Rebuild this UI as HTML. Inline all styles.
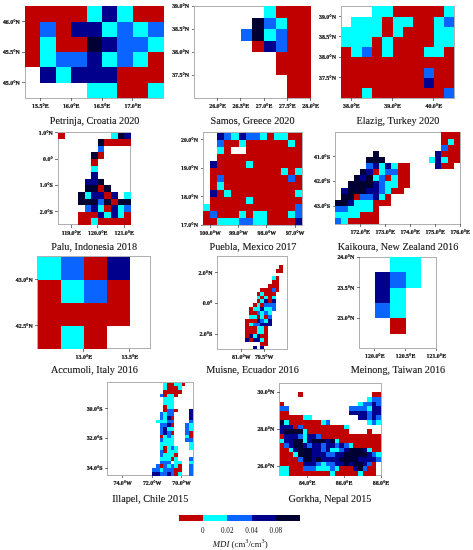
<!DOCTYPE html>
<html><head><meta charset="utf-8"><title>MDI maps</title>
<style>
html,body{margin:0;padding:0;background:#fff}
svg{display:block}
.tk{font-family:"Liberation Serif",serif;font-weight:bold;font-size:5.9px;fill:#111;stroke:#111;stroke-width:0.22px}
.tt{font-family:"Liberation Serif",serif;font-size:10.2px;fill:#111;stroke:#111;stroke-width:0.1px}
.cb{font-family:"Liberation Serif",serif;font-size:7.2px;fill:#111}
.cl{font-family:"Liberation Serif",serif;font-size:8.8px;fill:#111}
</style></head><body>
<svg width="473" height="550" viewBox="0 0 473 550">
<rect width="473" height="550" fill="#fff"/>
<g shape-rendering="crispEdges">
<rect x="25.00" y="6.20" width="138.60" height="91.90" fill="none" stroke="#b0b0b0" stroke-width="1"/>
<rect x="194.30" y="6.30" width="116.30" height="91.80" fill="none" stroke="#b0b0b0" stroke-width="1"/>
<rect x="341.10" y="6.30" width="113.30" height="91.90" fill="none" stroke="#b0b0b0" stroke-width="1"/>
<rect x="58.00" y="132.70" width="72.90" height="92.20" fill="none" stroke="#b0b0b0" stroke-width="1"/>
<rect x="203.10" y="132.80" width="99.20" height="92.20" fill="none" stroke="#b0b0b0" stroke-width="1"/>
<rect x="335.20" y="132.40" width="125.00" height="92.00" fill="none" stroke="#b0b0b0" stroke-width="1"/>
<rect x="37.90" y="256.80" width="112.60" height="92.10" fill="none" stroke="#b0b0b0" stroke-width="1"/>
<rect x="217.60" y="256.90" width="70.20" height="92.30" fill="none" stroke="#b0b0b0" stroke-width="1"/>
<rect x="359.50" y="257.00" width="76.80" height="91.80" fill="none" stroke="#b0b0b0" stroke-width="1"/>
<rect x="107.80" y="382.60" width="85.60" height="92.90" fill="none" stroke="#b0b0b0" stroke-width="1"/>
<rect x="279.50" y="383.05" width="101.50" height="92.50" fill="none" stroke="#b0b0b0" stroke-width="1"/>
<rect x="25.00" y="6.20" width="61.60" height="15.32" fill="#c00000"/>
<rect x="86.60" y="6.20" width="15.40" height="15.32" fill="#00ffff"/>
<rect x="102.00" y="6.20" width="15.40" height="15.32" fill="#00008c"/>
<rect x="117.40" y="6.20" width="15.40" height="15.32" fill="#00ffff"/>
<rect x="132.80" y="6.20" width="30.80" height="15.32" fill="#c00000"/>
<rect x="25.00" y="21.52" width="15.40" height="15.32" fill="#c00000"/>
<rect x="40.40" y="21.52" width="15.40" height="15.32" fill="#0a64ff"/>
<rect x="55.80" y="21.52" width="15.40" height="15.32" fill="#c00000"/>
<rect x="71.20" y="21.52" width="30.80" height="15.32" fill="#00008c"/>
<rect x="102.00" y="21.52" width="15.40" height="15.32" fill="#00ffff"/>
<rect x="117.40" y="21.52" width="15.40" height="15.32" fill="#0a64ff"/>
<rect x="132.80" y="21.52" width="15.40" height="15.32" fill="#00ffff"/>
<rect x="148.20" y="21.52" width="15.40" height="15.32" fill="#0a64ff"/>
<rect x="25.00" y="36.83" width="15.40" height="15.32" fill="#c00000"/>
<rect x="40.40" y="36.83" width="15.40" height="15.32" fill="#00ffff"/>
<rect x="55.80" y="36.83" width="30.80" height="15.32" fill="#c00000"/>
<rect x="86.60" y="36.83" width="15.40" height="15.32" fill="#000032"/>
<rect x="102.00" y="36.83" width="15.40" height="15.32" fill="#00008c"/>
<rect x="117.40" y="36.83" width="30.80" height="15.32" fill="#0a64ff"/>
<rect x="148.20" y="36.83" width="15.40" height="15.32" fill="#00ffff"/>
<rect x="25.00" y="52.15" width="15.40" height="15.32" fill="#c00000"/>
<rect x="40.40" y="52.15" width="15.40" height="15.32" fill="#00ffff"/>
<rect x="55.80" y="52.15" width="30.80" height="15.32" fill="#0a64ff"/>
<rect x="86.60" y="52.15" width="15.40" height="15.32" fill="#00008c"/>
<rect x="102.00" y="52.15" width="15.40" height="15.32" fill="#00ffff"/>
<rect x="117.40" y="52.15" width="15.40" height="15.32" fill="#0a64ff"/>
<rect x="132.80" y="52.15" width="15.40" height="15.32" fill="#00ffff"/>
<rect x="148.20" y="52.15" width="15.40" height="15.32" fill="#c00000"/>
<rect x="40.40" y="67.47" width="15.40" height="15.32" fill="#00008c"/>
<rect x="55.80" y="67.47" width="15.40" height="15.32" fill="#00ffff"/>
<rect x="71.20" y="67.47" width="46.20" height="15.32" fill="#00008c"/>
<rect x="117.40" y="67.47" width="46.20" height="15.32" fill="#c00000"/>
<rect x="86.60" y="82.78" width="30.80" height="15.32" fill="#00ffff"/>
<rect x="117.40" y="82.78" width="30.80" height="15.32" fill="#c00000"/>
<rect x="148.20" y="82.78" width="15.40" height="15.32" fill="#00ffff"/>
<line x1="22.40" y1="21.52" x2="25.00" y2="21.52" stroke="#404040" stroke-width="0.7"/>
<text class="tk" x="19.80" y="23.52" text-anchor="end">46.0°N</text>
<line x1="22.40" y1="52.15" x2="25.00" y2="52.15" stroke="#404040" stroke-width="0.7"/>
<text class="tk" x="19.80" y="54.15" text-anchor="end">45.5°N</text>
<line x1="22.40" y1="82.78" x2="25.00" y2="82.78" stroke="#404040" stroke-width="0.7"/>
<text class="tk" x="19.80" y="84.78" text-anchor="end">45.0°N</text>
<line x1="40.40" y1="98.10" x2="40.40" y2="100.70" stroke="#404040" stroke-width="0.7"/>
<text class="tk" x="40.40" y="107.70" text-anchor="middle">15.5°E</text>
<line x1="71.20" y1="98.10" x2="71.20" y2="100.70" stroke="#404040" stroke-width="0.7"/>
<text class="tk" x="71.20" y="107.70" text-anchor="middle">16.0°E</text>
<line x1="102.00" y1="98.10" x2="102.00" y2="100.70" stroke="#404040" stroke-width="0.7"/>
<text class="tk" x="102.00" y="107.70" text-anchor="middle">16.5°E</text>
<line x1="132.80" y1="98.10" x2="132.80" y2="100.70" stroke="#404040" stroke-width="0.7"/>
<text class="tk" x="132.80" y="107.70" text-anchor="middle">17.0°E</text>
<text class="tt" x="94.60" y="124.10" text-anchor="middle">Petrinja, Croatia 2020</text>
<rect x="264.08" y="6.30" width="11.63" height="11.47" fill="#00ffff"/>
<rect x="275.71" y="6.30" width="34.89" height="11.47" fill="#c00000"/>
<rect x="252.45" y="17.77" width="11.63" height="11.47" fill="#000032"/>
<rect x="264.08" y="17.77" width="11.63" height="11.47" fill="#0a64ff"/>
<rect x="275.71" y="17.77" width="11.63" height="11.47" fill="#00ffff"/>
<rect x="287.34" y="17.77" width="23.26" height="11.47" fill="#c00000"/>
<rect x="240.82" y="29.25" width="11.63" height="11.47" fill="#0a64ff"/>
<rect x="252.45" y="29.25" width="11.63" height="11.47" fill="#000032"/>
<rect x="264.08" y="29.25" width="11.63" height="11.47" fill="#00ffff"/>
<rect x="275.71" y="29.25" width="11.63" height="11.47" fill="#0a64ff"/>
<rect x="287.34" y="29.25" width="23.26" height="11.47" fill="#c00000"/>
<rect x="252.45" y="40.72" width="11.63" height="11.47" fill="#c00000"/>
<rect x="264.08" y="40.72" width="11.63" height="11.47" fill="#00008c"/>
<rect x="275.71" y="40.72" width="11.63" height="11.47" fill="#0a64ff"/>
<rect x="287.34" y="40.72" width="23.26" height="11.47" fill="#c00000"/>
<rect x="275.71" y="52.20" width="34.89" height="11.47" fill="#c00000"/>
<rect x="275.71" y="63.67" width="34.89" height="11.47" fill="#c00000"/>
<rect x="287.34" y="75.15" width="23.26" height="11.47" fill="#c00000"/>
<rect x="287.34" y="86.62" width="23.26" height="11.47" fill="#c00000"/>
<line x1="191.70" y1="6.30" x2="194.30" y2="6.30" stroke="#404040" stroke-width="0.7"/>
<text class="tk" x="189.10" y="8.30" text-anchor="end">39.0°N</text>
<line x1="191.70" y1="29.25" x2="194.30" y2="29.25" stroke="#404040" stroke-width="0.7"/>
<text class="tk" x="189.10" y="31.25" text-anchor="end">38.5°N</text>
<line x1="191.70" y1="52.20" x2="194.30" y2="52.20" stroke="#404040" stroke-width="0.7"/>
<text class="tk" x="189.10" y="54.20" text-anchor="end">38.0°N</text>
<line x1="191.70" y1="75.15" x2="194.30" y2="75.15" stroke="#404040" stroke-width="0.7"/>
<text class="tk" x="189.10" y="77.15" text-anchor="end">37.5°N</text>
<line x1="217.56" y1="98.10" x2="217.56" y2="100.70" stroke="#404040" stroke-width="0.7"/>
<text class="tk" x="217.56" y="107.70" text-anchor="middle">26.0°E</text>
<line x1="240.82" y1="98.10" x2="240.82" y2="100.70" stroke="#404040" stroke-width="0.7"/>
<text class="tk" x="240.82" y="107.70" text-anchor="middle">26.5°E</text>
<line x1="264.08" y1="98.10" x2="264.08" y2="100.70" stroke="#404040" stroke-width="0.7"/>
<text class="tk" x="264.08" y="107.70" text-anchor="middle">27.0°E</text>
<line x1="287.34" y1="98.10" x2="287.34" y2="100.70" stroke="#404040" stroke-width="0.7"/>
<text class="tk" x="287.34" y="107.70" text-anchor="middle">27.5°E</text>
<line x1="310.60" y1="98.10" x2="310.60" y2="100.70" stroke="#404040" stroke-width="0.7"/>
<text class="tk" x="310.60" y="107.70" text-anchor="middle">28.0°E</text>
<text class="tt" x="252.50" y="124.10" text-anchor="middle">Samos, Greece 2020</text>
<rect x="372.00" y="6.30" width="20.60" height="10.21" fill="#00ffff"/>
<rect x="392.60" y="6.30" width="51.50" height="10.21" fill="#c00000"/>
<rect x="444.10" y="6.30" width="10.30" height="10.21" fill="#00ffff"/>
<rect x="351.40" y="16.51" width="30.90" height="10.21" fill="#00ffff"/>
<rect x="382.30" y="16.51" width="10.30" height="10.21" fill="#c00000"/>
<rect x="392.60" y="16.51" width="20.60" height="10.21" fill="#00ffff"/>
<rect x="413.20" y="16.51" width="20.60" height="10.21" fill="#c00000"/>
<rect x="433.80" y="16.51" width="10.30" height="10.21" fill="#00ffff"/>
<rect x="444.10" y="16.51" width="10.30" height="10.21" fill="#0a64ff"/>
<rect x="341.10" y="26.72" width="41.20" height="10.21" fill="#00ffff"/>
<rect x="382.30" y="26.72" width="10.30" height="10.21" fill="#c00000"/>
<rect x="392.60" y="26.72" width="10.30" height="10.21" fill="#00ffff"/>
<rect x="402.90" y="26.72" width="30.90" height="10.21" fill="#c00000"/>
<rect x="433.80" y="26.72" width="20.60" height="10.21" fill="#00ffff"/>
<rect x="341.10" y="36.93" width="30.90" height="10.21" fill="#00ffff"/>
<rect x="372.00" y="36.93" width="10.30" height="10.21" fill="#c00000"/>
<rect x="382.30" y="36.93" width="10.30" height="10.21" fill="#00ffff"/>
<rect x="392.60" y="36.93" width="41.20" height="10.21" fill="#c00000"/>
<rect x="433.80" y="36.93" width="20.60" height="10.21" fill="#00ffff"/>
<rect x="341.10" y="47.14" width="10.30" height="10.21" fill="#c00000"/>
<rect x="351.40" y="47.14" width="10.30" height="10.21" fill="#00ffff"/>
<rect x="361.70" y="47.14" width="10.30" height="10.21" fill="#0a64ff"/>
<rect x="372.00" y="47.14" width="10.30" height="10.21" fill="#c00000"/>
<rect x="382.30" y="47.14" width="10.30" height="10.21" fill="#00ffff"/>
<rect x="392.60" y="47.14" width="30.90" height="10.21" fill="#c00000"/>
<rect x="423.50" y="47.14" width="20.60" height="10.21" fill="#00ffff"/>
<rect x="444.10" y="47.14" width="10.30" height="10.21" fill="#c00000"/>
<rect x="341.10" y="57.36" width="113.30" height="10.21" fill="#c00000"/>
<rect x="341.10" y="67.57" width="82.40" height="10.21" fill="#c00000"/>
<rect x="423.50" y="67.57" width="10.30" height="10.21" fill="#0a64ff"/>
<rect x="433.80" y="67.57" width="20.60" height="10.21" fill="#c00000"/>
<rect x="341.10" y="77.78" width="82.40" height="10.21" fill="#c00000"/>
<rect x="423.50" y="77.78" width="10.30" height="10.21" fill="#00008c"/>
<rect x="433.80" y="77.78" width="20.60" height="10.21" fill="#c00000"/>
<rect x="341.10" y="87.99" width="20.60" height="10.21" fill="#c00000"/>
<rect x="361.70" y="87.99" width="10.30" height="10.21" fill="#00ffff"/>
<rect x="372.00" y="87.99" width="72.10" height="10.21" fill="#c00000"/>
<rect x="444.10" y="87.99" width="10.30" height="10.21" fill="#0a64ff"/>
<line x1="338.50" y1="16.51" x2="341.10" y2="16.51" stroke="#404040" stroke-width="0.7"/>
<text class="tk" x="335.90" y="18.51" text-anchor="end">39.0°N</text>
<line x1="338.50" y1="36.93" x2="341.10" y2="36.93" stroke="#404040" stroke-width="0.7"/>
<text class="tk" x="335.90" y="38.93" text-anchor="end">38.5°N</text>
<line x1="338.50" y1="57.36" x2="341.10" y2="57.36" stroke="#404040" stroke-width="0.7"/>
<text class="tk" x="335.90" y="59.36" text-anchor="end">38.0°N</text>
<line x1="338.50" y1="77.78" x2="341.10" y2="77.78" stroke="#404040" stroke-width="0.7"/>
<text class="tk" x="335.90" y="79.78" text-anchor="end">37.5°N</text>
<line x1="351.40" y1="98.20" x2="351.40" y2="100.80" stroke="#404040" stroke-width="0.7"/>
<text class="tk" x="351.40" y="107.80" text-anchor="middle">38.0°E</text>
<line x1="392.60" y1="98.20" x2="392.60" y2="100.80" stroke="#404040" stroke-width="0.7"/>
<text class="tk" x="392.60" y="107.80" text-anchor="middle">39.0°E</text>
<line x1="433.80" y1="98.20" x2="433.80" y2="100.80" stroke="#404040" stroke-width="0.7"/>
<text class="tk" x="433.80" y="107.80" text-anchor="middle">40.0°E</text>
<text class="tt" x="398.00" y="124.10" text-anchor="middle">Elazig, Turkey 2020</text>
<rect x="58.00" y="132.70" width="6.63" height="6.59" fill="#c00000"/>
<rect x="111.02" y="132.70" width="6.63" height="6.59" fill="#00ffff"/>
<rect x="117.65" y="132.70" width="6.63" height="6.59" fill="#000032"/>
<rect x="124.27" y="132.70" width="6.63" height="6.59" fill="#00008c"/>
<rect x="97.76" y="139.29" width="6.63" height="6.59" fill="#000032"/>
<rect x="104.39" y="139.29" width="26.51" height="6.59" fill="#c00000"/>
<rect x="97.76" y="145.87" width="6.63" height="6.59" fill="#0a64ff"/>
<rect x="91.14" y="152.46" width="6.63" height="6.59" fill="#000032"/>
<rect x="97.76" y="152.46" width="6.63" height="6.59" fill="#c00000"/>
<rect x="91.14" y="159.04" width="6.63" height="6.59" fill="#c00000"/>
<rect x="91.14" y="165.63" width="6.63" height="6.59" fill="#00ffff"/>
<rect x="91.14" y="172.21" width="6.63" height="6.59" fill="#00008c"/>
<rect x="84.51" y="178.80" width="13.25" height="6.59" fill="#00008c"/>
<rect x="97.76" y="178.80" width="6.63" height="6.59" fill="#000032"/>
<rect x="84.51" y="185.39" width="13.25" height="6.59" fill="#000032"/>
<rect x="97.76" y="185.39" width="6.63" height="6.59" fill="#c00000"/>
<rect x="104.39" y="185.39" width="6.63" height="6.59" fill="#000032"/>
<rect x="77.88" y="191.97" width="6.63" height="6.59" fill="#000032"/>
<rect x="84.51" y="191.97" width="6.63" height="6.59" fill="#00ffff"/>
<rect x="91.14" y="191.97" width="13.25" height="6.59" fill="#00008c"/>
<rect x="104.39" y="191.97" width="6.63" height="6.59" fill="#c00000"/>
<rect x="111.02" y="191.97" width="6.63" height="6.59" fill="#00008c"/>
<rect x="124.27" y="191.97" width="6.63" height="6.59" fill="#00ffff"/>
<rect x="77.88" y="198.56" width="19.88" height="6.59" fill="#000032"/>
<rect x="97.76" y="198.56" width="6.63" height="6.59" fill="#0a64ff"/>
<rect x="104.39" y="198.56" width="6.63" height="6.59" fill="#000032"/>
<rect x="111.02" y="198.56" width="6.63" height="6.59" fill="#c00000"/>
<rect x="117.65" y="198.56" width="13.25" height="6.59" fill="#000032"/>
<rect x="84.51" y="205.14" width="6.63" height="6.59" fill="#0a64ff"/>
<rect x="91.14" y="205.14" width="6.63" height="6.59" fill="#00008c"/>
<rect x="97.76" y="205.14" width="6.63" height="6.59" fill="#00ffff"/>
<rect x="104.39" y="205.14" width="6.63" height="6.59" fill="#c00000"/>
<rect x="111.02" y="205.14" width="6.63" height="6.59" fill="#00008c"/>
<rect x="117.65" y="205.14" width="6.63" height="6.59" fill="#00ffff"/>
<rect x="124.27" y="205.14" width="6.63" height="6.59" fill="#0a64ff"/>
<rect x="77.88" y="211.73" width="19.88" height="6.59" fill="#c00000"/>
<rect x="97.76" y="211.73" width="6.63" height="6.59" fill="#00008c"/>
<rect x="104.39" y="211.73" width="6.63" height="6.59" fill="#00ffff"/>
<rect x="111.02" y="211.73" width="6.63" height="6.59" fill="#00008c"/>
<rect x="117.65" y="211.73" width="6.63" height="6.59" fill="#00ffff"/>
<rect x="124.27" y="211.73" width="6.63" height="6.59" fill="#c00000"/>
<rect x="77.88" y="218.31" width="13.25" height="6.59" fill="#c00000"/>
<rect x="91.14" y="218.31" width="6.63" height="6.59" fill="#00ffff"/>
<rect x="97.76" y="218.31" width="33.14" height="6.59" fill="#c00000"/>
<line x1="55.40" y1="132.70" x2="58.00" y2="132.70" stroke="#404040" stroke-width="0.7"/>
<text class="tk" x="52.80" y="134.70" text-anchor="end">1.0°N</text>
<line x1="55.40" y1="159.04" x2="58.00" y2="159.04" stroke="#404040" stroke-width="0.7"/>
<text class="tk" x="52.80" y="161.04" text-anchor="end">0.0°</text>
<line x1="55.40" y1="185.39" x2="58.00" y2="185.39" stroke="#404040" stroke-width="0.7"/>
<text class="tk" x="52.80" y="187.39" text-anchor="end">1.0°S</text>
<line x1="55.40" y1="211.73" x2="58.00" y2="211.73" stroke="#404040" stroke-width="0.7"/>
<text class="tk" x="52.80" y="213.73" text-anchor="end">2.0°S</text>
<line x1="71.25" y1="224.90" x2="71.25" y2="227.50" stroke="#404040" stroke-width="0.7"/>
<text class="tk" x="71.25" y="234.50" text-anchor="middle">119.0°E</text>
<line x1="97.76" y1="224.90" x2="97.76" y2="227.50" stroke="#404040" stroke-width="0.7"/>
<text class="tk" x="97.76" y="234.50" text-anchor="middle">120.0°E</text>
<line x1="124.27" y1="224.90" x2="124.27" y2="227.50" stroke="#404040" stroke-width="0.7"/>
<text class="tk" x="124.27" y="234.50" text-anchor="middle">121.0°E</text>
<text class="tt" x="94.20" y="250.20" text-anchor="middle">Palu, Indonesia 2018</text>
<rect x="217.27" y="132.80" width="7.09" height="7.09" fill="#00008c"/>
<rect x="224.36" y="132.80" width="7.09" height="7.09" fill="#0a64ff"/>
<rect x="231.44" y="132.80" width="7.09" height="7.09" fill="#00ffff"/>
<rect x="238.53" y="132.80" width="7.09" height="7.09" fill="#00008c"/>
<rect x="245.61" y="132.80" width="14.17" height="7.09" fill="#0a64ff"/>
<rect x="259.79" y="132.80" width="7.09" height="7.09" fill="#00ffff"/>
<rect x="266.87" y="132.80" width="7.09" height="7.09" fill="#c00000"/>
<rect x="273.96" y="132.80" width="14.17" height="7.09" fill="#00ffff"/>
<rect x="288.13" y="132.80" width="14.17" height="7.09" fill="#c00000"/>
<rect x="217.27" y="139.89" width="7.09" height="7.09" fill="#0a64ff"/>
<rect x="224.36" y="139.89" width="14.17" height="7.09" fill="#c00000"/>
<rect x="238.53" y="139.89" width="7.09" height="7.09" fill="#00ffff"/>
<rect x="245.61" y="139.89" width="42.51" height="7.09" fill="#c00000"/>
<rect x="288.13" y="139.89" width="7.09" height="7.09" fill="#00ffff"/>
<rect x="295.21" y="139.89" width="7.09" height="7.09" fill="#c00000"/>
<rect x="217.27" y="146.98" width="7.09" height="7.09" fill="#00ffff"/>
<rect x="224.36" y="146.98" width="7.09" height="7.09" fill="#c00000"/>
<rect x="245.61" y="146.98" width="56.69" height="7.09" fill="#c00000"/>
<rect x="217.27" y="154.08" width="85.03" height="7.09" fill="#c00000"/>
<rect x="210.19" y="161.17" width="7.09" height="7.09" fill="#00008c"/>
<rect x="217.27" y="161.17" width="28.34" height="7.09" fill="#c00000"/>
<rect x="245.61" y="161.17" width="7.09" height="7.09" fill="#00ffff"/>
<rect x="252.70" y="161.17" width="49.60" height="7.09" fill="#c00000"/>
<rect x="210.19" y="168.26" width="70.86" height="7.09" fill="#c00000"/>
<rect x="281.04" y="168.26" width="7.09" height="7.09" fill="#00ffff"/>
<rect x="288.13" y="168.26" width="7.09" height="7.09" fill="#c00000"/>
<rect x="295.21" y="168.26" width="7.09" height="7.09" fill="#00ffff"/>
<rect x="210.19" y="175.35" width="7.09" height="7.09" fill="#c00000"/>
<rect x="217.27" y="175.35" width="7.09" height="7.09" fill="#0a64ff"/>
<rect x="224.36" y="175.35" width="63.77" height="7.09" fill="#c00000"/>
<rect x="288.13" y="175.35" width="7.09" height="7.09" fill="#0a64ff"/>
<rect x="295.21" y="175.35" width="7.09" height="7.09" fill="#c00000"/>
<rect x="210.19" y="182.45" width="7.09" height="7.09" fill="#c00000"/>
<rect x="217.27" y="182.45" width="7.09" height="7.09" fill="#00ffff"/>
<rect x="224.36" y="182.45" width="77.94" height="7.09" fill="#c00000"/>
<rect x="210.19" y="189.54" width="7.09" height="7.09" fill="#00008c"/>
<rect x="217.27" y="189.54" width="7.09" height="7.09" fill="#c00000"/>
<rect x="224.36" y="189.54" width="7.09" height="7.09" fill="#00ffff"/>
<rect x="231.44" y="189.54" width="63.77" height="7.09" fill="#c00000"/>
<rect x="295.21" y="189.54" width="7.09" height="7.09" fill="#00ffff"/>
<rect x="210.19" y="196.63" width="35.43" height="7.09" fill="#c00000"/>
<rect x="245.61" y="196.63" width="7.09" height="7.09" fill="#00ffff"/>
<rect x="252.70" y="196.63" width="49.60" height="7.09" fill="#c00000"/>
<rect x="203.10" y="203.72" width="7.09" height="7.09" fill="#00ffff"/>
<rect x="210.19" y="203.72" width="85.03" height="7.09" fill="#c00000"/>
<rect x="295.21" y="203.72" width="7.09" height="7.09" fill="#0a64ff"/>
<rect x="203.10" y="210.82" width="7.09" height="7.09" fill="#c00000"/>
<rect x="210.19" y="210.82" width="7.09" height="7.09" fill="#0a64ff"/>
<rect x="217.27" y="210.82" width="21.26" height="7.09" fill="#c00000"/>
<rect x="238.53" y="210.82" width="7.09" height="7.09" fill="#00ffff"/>
<rect x="245.61" y="210.82" width="7.09" height="7.09" fill="#c00000"/>
<rect x="252.70" y="210.82" width="14.17" height="7.09" fill="#00ffff"/>
<rect x="266.87" y="210.82" width="21.26" height="7.09" fill="#c00000"/>
<rect x="288.13" y="210.82" width="7.09" height="7.09" fill="#00ffff"/>
<rect x="295.21" y="210.82" width="7.09" height="7.09" fill="#0a64ff"/>
<rect x="203.10" y="217.91" width="14.17" height="7.09" fill="#c00000"/>
<rect x="217.27" y="217.91" width="21.26" height="7.09" fill="#00ffff"/>
<rect x="238.53" y="217.91" width="14.17" height="7.09" fill="#0a64ff"/>
<rect x="252.70" y="217.91" width="14.17" height="7.09" fill="#00ffff"/>
<rect x="266.87" y="217.91" width="28.34" height="7.09" fill="#c00000"/>
<rect x="295.21" y="217.91" width="7.09" height="7.09" fill="#00008c"/>
<line x1="200.50" y1="139.89" x2="203.10" y2="139.89" stroke="#404040" stroke-width="0.7"/>
<text class="tk" x="197.90" y="141.89" text-anchor="end">20.0°N</text>
<line x1="200.50" y1="168.26" x2="203.10" y2="168.26" stroke="#404040" stroke-width="0.7"/>
<text class="tk" x="197.90" y="170.26" text-anchor="end">19.0°N</text>
<line x1="200.50" y1="196.63" x2="203.10" y2="196.63" stroke="#404040" stroke-width="0.7"/>
<text class="tk" x="197.90" y="198.63" text-anchor="end">18.0°N</text>
<line x1="200.50" y1="225.00" x2="203.10" y2="225.00" stroke="#404040" stroke-width="0.7"/>
<text class="tk" x="197.90" y="227.00" text-anchor="end">17.0°N</text>
<line x1="210.19" y1="225.00" x2="210.19" y2="227.60" stroke="#404040" stroke-width="0.7"/>
<text class="tk" x="210.19" y="234.60" text-anchor="middle">100.0°W</text>
<line x1="238.53" y1="225.00" x2="238.53" y2="227.60" stroke="#404040" stroke-width="0.7"/>
<text class="tk" x="238.53" y="234.60" text-anchor="middle">99.0°W</text>
<line x1="266.87" y1="225.00" x2="266.87" y2="227.60" stroke="#404040" stroke-width="0.7"/>
<text class="tk" x="266.87" y="234.60" text-anchor="middle">98.0°W</text>
<line x1="295.21" y1="225.00" x2="295.21" y2="227.60" stroke="#404040" stroke-width="0.7"/>
<text class="tk" x="295.21" y="234.60" text-anchor="middle">97.0°W</text>
<text class="tt" x="253.00" y="250.30" text-anchor="middle">Puebla, Mexico 2017</text>
<rect x="441.45" y="132.40" width="18.75" height="6.13" fill="#c00000"/>
<rect x="441.45" y="138.53" width="6.25" height="6.13" fill="#c00000"/>
<rect x="447.70" y="138.53" width="6.25" height="6.13" fill="#00ffff"/>
<rect x="453.95" y="138.53" width="6.25" height="6.13" fill="#c00000"/>
<rect x="441.45" y="144.67" width="6.25" height="6.13" fill="#0a64ff"/>
<rect x="447.70" y="144.67" width="12.50" height="6.13" fill="#c00000"/>
<rect x="372.70" y="150.80" width="6.25" height="6.13" fill="#000032"/>
<rect x="435.20" y="150.80" width="6.25" height="6.13" fill="#00008c"/>
<rect x="441.45" y="150.80" width="18.75" height="6.13" fill="#c00000"/>
<rect x="366.45" y="156.93" width="18.75" height="6.13" fill="#000032"/>
<rect x="428.95" y="156.93" width="6.25" height="6.13" fill="#00ffff"/>
<rect x="435.20" y="156.93" width="6.25" height="6.13" fill="#00008c"/>
<rect x="441.45" y="156.93" width="6.25" height="6.13" fill="#00ffff"/>
<rect x="447.70" y="156.93" width="12.50" height="6.13" fill="#c00000"/>
<rect x="366.45" y="163.07" width="6.25" height="6.13" fill="#0a64ff"/>
<rect x="372.70" y="163.07" width="6.25" height="6.13" fill="#00008c"/>
<rect x="378.95" y="163.07" width="6.25" height="6.13" fill="#00ffff"/>
<rect x="385.20" y="163.07" width="6.25" height="6.13" fill="#00008c"/>
<rect x="391.45" y="163.07" width="6.25" height="6.13" fill="#00ffff"/>
<rect x="397.70" y="163.07" width="12.50" height="6.13" fill="#c00000"/>
<rect x="435.20" y="163.07" width="6.25" height="6.13" fill="#00008c"/>
<rect x="441.45" y="163.07" width="12.50" height="6.13" fill="#c00000"/>
<rect x="360.20" y="169.20" width="6.25" height="6.13" fill="#000032"/>
<rect x="366.45" y="169.20" width="6.25" height="6.13" fill="#00008c"/>
<rect x="372.70" y="169.20" width="6.25" height="6.13" fill="#c00000"/>
<rect x="378.95" y="169.20" width="6.25" height="6.13" fill="#00ffff"/>
<rect x="385.20" y="169.20" width="12.50" height="6.13" fill="#0a64ff"/>
<rect x="397.70" y="169.20" width="12.50" height="6.13" fill="#c00000"/>
<rect x="353.95" y="175.33" width="6.25" height="6.13" fill="#000032"/>
<rect x="360.20" y="175.33" width="6.25" height="6.13" fill="#00008c"/>
<rect x="366.45" y="175.33" width="6.25" height="6.13" fill="#000032"/>
<rect x="372.70" y="175.33" width="6.25" height="6.13" fill="#00ffff"/>
<rect x="378.95" y="175.33" width="6.25" height="6.13" fill="#0a64ff"/>
<rect x="385.20" y="175.33" width="6.25" height="6.13" fill="#c00000"/>
<rect x="391.45" y="175.33" width="6.25" height="6.13" fill="#00ffff"/>
<rect x="397.70" y="175.33" width="12.50" height="6.13" fill="#c00000"/>
<rect x="347.70" y="181.47" width="25.00" height="6.13" fill="#000032"/>
<rect x="372.70" y="181.47" width="6.25" height="6.13" fill="#00008c"/>
<rect x="378.95" y="181.47" width="6.25" height="6.13" fill="#0a64ff"/>
<rect x="385.20" y="181.47" width="12.50" height="6.13" fill="#00ffff"/>
<rect x="397.70" y="181.47" width="12.50" height="6.13" fill="#c00000"/>
<rect x="341.45" y="187.60" width="6.25" height="6.13" fill="#00008c"/>
<rect x="347.70" y="187.60" width="18.75" height="6.13" fill="#000032"/>
<rect x="366.45" y="187.60" width="12.50" height="6.13" fill="#00008c"/>
<rect x="378.95" y="187.60" width="6.25" height="6.13" fill="#0a64ff"/>
<rect x="385.20" y="187.60" width="6.25" height="6.13" fill="#00ffff"/>
<rect x="391.45" y="187.60" width="12.50" height="6.13" fill="#c00000"/>
<rect x="341.45" y="193.73" width="12.50" height="6.13" fill="#000032"/>
<rect x="353.95" y="193.73" width="6.25" height="6.13" fill="#c00000"/>
<rect x="360.20" y="193.73" width="12.50" height="6.13" fill="#0a64ff"/>
<rect x="372.70" y="193.73" width="6.25" height="6.13" fill="#00008c"/>
<rect x="378.95" y="193.73" width="6.25" height="6.13" fill="#00ffff"/>
<rect x="385.20" y="193.73" width="6.25" height="6.13" fill="#c00000"/>
<rect x="335.20" y="199.87" width="12.50" height="6.13" fill="#000032"/>
<rect x="347.70" y="199.87" width="6.25" height="6.13" fill="#00008c"/>
<rect x="353.95" y="199.87" width="18.75" height="6.13" fill="#00ffff"/>
<rect x="372.70" y="199.87" width="18.75" height="6.13" fill="#c00000"/>
<rect x="335.20" y="206.00" width="12.50" height="6.13" fill="#0a64ff"/>
<rect x="347.70" y="206.00" width="25.00" height="6.13" fill="#00ffff"/>
<rect x="372.70" y="206.00" width="6.25" height="6.13" fill="#c00000"/>
<rect x="335.20" y="212.13" width="25.00" height="6.13" fill="#00ffff"/>
<rect x="360.20" y="212.13" width="18.75" height="6.13" fill="#c00000"/>
<rect x="335.20" y="218.27" width="6.25" height="6.13" fill="#0a64ff"/>
<rect x="341.45" y="218.27" width="6.25" height="6.13" fill="#00ffff"/>
<rect x="347.70" y="218.27" width="31.25" height="6.13" fill="#c00000"/>
<line x1="332.60" y1="156.93" x2="335.20" y2="156.93" stroke="#404040" stroke-width="0.7"/>
<text class="tk" x="330.00" y="158.93" text-anchor="end">41.0°S</text>
<line x1="332.60" y1="181.47" x2="335.20" y2="181.47" stroke="#404040" stroke-width="0.7"/>
<text class="tk" x="330.00" y="183.47" text-anchor="end">42.0°S</text>
<line x1="332.60" y1="206.00" x2="335.20" y2="206.00" stroke="#404040" stroke-width="0.7"/>
<text class="tk" x="330.00" y="208.00" text-anchor="end">43.0°S</text>
<line x1="360.20" y1="224.40" x2="360.20" y2="227.00" stroke="#404040" stroke-width="0.7"/>
<text class="tk" x="360.20" y="234.00" text-anchor="middle">172.0°E</text>
<line x1="385.20" y1="224.40" x2="385.20" y2="227.00" stroke="#404040" stroke-width="0.7"/>
<text class="tk" x="385.20" y="234.00" text-anchor="middle">173.0°E</text>
<line x1="410.20" y1="224.40" x2="410.20" y2="227.00" stroke="#404040" stroke-width="0.7"/>
<text class="tk" x="410.20" y="234.00" text-anchor="middle">174.0°E</text>
<line x1="435.20" y1="224.40" x2="435.20" y2="227.00" stroke="#404040" stroke-width="0.7"/>
<text class="tk" x="435.20" y="234.00" text-anchor="middle">175.0°E</text>
<line x1="460.20" y1="224.40" x2="460.20" y2="227.00" stroke="#404040" stroke-width="0.7"/>
<text class="tk" x="460.20" y="234.00" text-anchor="middle">176.0°E</text>
<text class="tt" x="398.00" y="250.30" text-anchor="middle">Kaikoura, New Zealand 2016</text>
<rect x="37.90" y="256.80" width="23.00" height="23.02" fill="#00ffff"/>
<rect x="60.90" y="256.80" width="23.00" height="23.02" fill="#0a64ff"/>
<rect x="83.90" y="256.80" width="23.00" height="23.02" fill="#c00000"/>
<rect x="106.90" y="256.80" width="23.00" height="23.02" fill="#00008c"/>
<rect x="37.90" y="279.82" width="23.00" height="23.02" fill="#c00000"/>
<rect x="60.90" y="279.82" width="23.00" height="23.02" fill="#00ffff"/>
<rect x="83.90" y="279.82" width="23.00" height="23.02" fill="#0a64ff"/>
<rect x="106.90" y="279.82" width="23.00" height="23.02" fill="#c00000"/>
<rect x="37.90" y="302.85" width="92.00" height="23.02" fill="#c00000"/>
<rect x="37.90" y="325.88" width="23.00" height="23.02" fill="#c00000"/>
<rect x="60.90" y="325.88" width="23.00" height="23.02" fill="#00ffff"/>
<rect x="83.90" y="325.88" width="23.00" height="23.02" fill="#c00000"/>
<line x1="35.30" y1="279.82" x2="37.90" y2="279.82" stroke="#404040" stroke-width="0.7"/>
<text class="tk" x="32.70" y="281.82" text-anchor="end">43.0°N</text>
<line x1="35.30" y1="325.88" x2="37.90" y2="325.88" stroke="#404040" stroke-width="0.7"/>
<text class="tk" x="32.70" y="327.88" text-anchor="end">42.5°N</text>
<line x1="83.90" y1="348.90" x2="83.90" y2="351.50" stroke="#404040" stroke-width="0.7"/>
<text class="tk" x="83.90" y="358.50" text-anchor="middle">13.0°E</text>
<line x1="129.90" y1="348.90" x2="129.90" y2="351.50" stroke="#404040" stroke-width="0.7"/>
<text class="tk" x="129.90" y="358.50" text-anchor="middle">13.5°E</text>
<text class="tt" x="94.40" y="373.20" text-anchor="middle">Accumoli, Italy 2016</text>
<rect x="279.40" y="264.92" width="3.80" height="3.84" fill="#c00000"/>
<rect x="275.60" y="268.76" width="7.60" height="3.84" fill="#c00000"/>
<rect x="271.80" y="276.44" width="3.80" height="3.84" fill="#00ffff"/>
<rect x="275.60" y="276.44" width="3.80" height="3.84" fill="#c00000"/>
<rect x="271.80" y="280.28" width="7.60" height="3.84" fill="#c00000"/>
<rect x="268.00" y="284.12" width="11.40" height="3.84" fill="#c00000"/>
<rect x="260.40" y="287.96" width="11.40" height="3.84" fill="#c00000"/>
<rect x="271.80" y="287.96" width="3.80" height="3.84" fill="#0a64ff"/>
<rect x="275.60" y="287.96" width="3.80" height="3.84" fill="#c00000"/>
<rect x="256.60" y="291.80" width="3.80" height="3.84" fill="#c00000"/>
<rect x="260.40" y="291.80" width="3.80" height="3.84" fill="#00ffff"/>
<rect x="264.20" y="291.80" width="11.40" height="3.84" fill="#c00000"/>
<rect x="256.60" y="295.64" width="3.80" height="3.84" fill="#00ffff"/>
<rect x="260.40" y="295.64" width="3.80" height="3.84" fill="#c00000"/>
<rect x="264.20" y="295.64" width="3.80" height="3.84" fill="#00ffff"/>
<rect x="268.00" y="295.64" width="3.80" height="3.84" fill="#c00000"/>
<rect x="271.80" y="295.64" width="3.80" height="3.84" fill="#00ffff"/>
<rect x="256.60" y="299.48" width="3.80" height="3.84" fill="#c00000"/>
<rect x="260.40" y="299.48" width="3.80" height="3.84" fill="#00ffff"/>
<rect x="264.20" y="299.48" width="3.80" height="3.84" fill="#00008c"/>
<rect x="268.00" y="299.48" width="3.80" height="3.84" fill="#c00000"/>
<rect x="271.80" y="299.48" width="3.80" height="3.84" fill="#00008c"/>
<rect x="252.80" y="303.32" width="3.80" height="3.84" fill="#c00000"/>
<rect x="256.60" y="303.32" width="3.80" height="3.84" fill="#00ffff"/>
<rect x="260.40" y="303.32" width="3.80" height="3.84" fill="#c00000"/>
<rect x="264.20" y="303.32" width="11.40" height="3.84" fill="#0a64ff"/>
<rect x="249.00" y="307.16" width="3.80" height="3.84" fill="#c00000"/>
<rect x="252.80" y="307.16" width="7.60" height="3.84" fill="#00ffff"/>
<rect x="260.40" y="307.16" width="3.80" height="3.84" fill="#00008c"/>
<rect x="264.20" y="307.16" width="7.60" height="3.84" fill="#00ffff"/>
<rect x="271.80" y="307.16" width="3.80" height="3.84" fill="#0a64ff"/>
<rect x="249.00" y="311.00" width="7.60" height="3.84" fill="#c00000"/>
<rect x="256.60" y="311.00" width="3.80" height="3.84" fill="#0a64ff"/>
<rect x="260.40" y="311.00" width="3.80" height="3.84" fill="#00ffff"/>
<rect x="264.20" y="311.00" width="3.80" height="3.84" fill="#0a64ff"/>
<rect x="268.00" y="311.00" width="3.80" height="3.84" fill="#00ffff"/>
<rect x="249.00" y="314.84" width="7.60" height="3.84" fill="#00ffff"/>
<rect x="256.60" y="314.84" width="3.80" height="3.84" fill="#c00000"/>
<rect x="260.40" y="314.84" width="3.80" height="3.84" fill="#00ffff"/>
<rect x="264.20" y="314.84" width="3.80" height="3.84" fill="#c00000"/>
<rect x="268.00" y="314.84" width="3.80" height="3.84" fill="#0a64ff"/>
<rect x="245.20" y="318.68" width="11.40" height="3.84" fill="#c00000"/>
<rect x="256.60" y="318.68" width="3.80" height="3.84" fill="#00008c"/>
<rect x="260.40" y="318.68" width="3.80" height="3.84" fill="#0a64ff"/>
<rect x="264.20" y="318.68" width="3.80" height="3.84" fill="#00ffff"/>
<rect x="268.00" y="318.68" width="3.80" height="3.84" fill="#00008c"/>
<rect x="245.20" y="322.52" width="3.80" height="3.84" fill="#c00000"/>
<rect x="249.00" y="322.52" width="3.80" height="3.84" fill="#00ffff"/>
<rect x="252.80" y="322.52" width="7.60" height="3.84" fill="#0a64ff"/>
<rect x="260.40" y="322.52" width="11.40" height="3.84" fill="#00008c"/>
<rect x="245.20" y="326.36" width="11.40" height="3.84" fill="#c00000"/>
<rect x="256.60" y="326.36" width="7.60" height="3.84" fill="#00ffff"/>
<rect x="264.20" y="326.36" width="3.80" height="3.84" fill="#c00000"/>
<rect x="245.20" y="330.20" width="11.40" height="3.84" fill="#c00000"/>
<rect x="256.60" y="330.20" width="7.60" height="3.84" fill="#00ffff"/>
<rect x="264.20" y="330.20" width="3.80" height="3.84" fill="#c00000"/>
<rect x="245.20" y="334.04" width="3.80" height="3.84" fill="#c00000"/>
<rect x="249.00" y="334.04" width="3.80" height="3.84" fill="#00008c"/>
<rect x="252.80" y="334.04" width="3.80" height="3.84" fill="#00ffff"/>
<rect x="256.60" y="334.04" width="3.80" height="3.84" fill="#00008c"/>
<rect x="260.40" y="334.04" width="7.60" height="3.84" fill="#c00000"/>
<rect x="245.20" y="337.88" width="3.80" height="3.84" fill="#00008c"/>
<rect x="249.00" y="337.88" width="3.80" height="3.84" fill="#c00000"/>
<rect x="252.80" y="337.88" width="7.60" height="3.84" fill="#00008c"/>
<rect x="260.40" y="337.88" width="3.80" height="3.84" fill="#00ffff"/>
<rect x="264.20" y="337.88" width="3.80" height="3.84" fill="#c00000"/>
<rect x="260.40" y="341.72" width="7.60" height="3.84" fill="#c00000"/>
<rect x="252.80" y="345.56" width="3.80" height="3.84" fill="#00008c"/>
<rect x="260.40" y="345.56" width="3.80" height="3.84" fill="#00008c"/>
<line x1="215.00" y1="272.60" x2="217.60" y2="272.60" stroke="#404040" stroke-width="0.7"/>
<text class="tk" x="212.40" y="274.60" text-anchor="end">2.0°N</text>
<line x1="215.00" y1="303.32" x2="217.60" y2="303.32" stroke="#404040" stroke-width="0.7"/>
<text class="tk" x="212.40" y="305.32" text-anchor="end">0.0°</text>
<line x1="215.00" y1="334.04" x2="217.60" y2="334.04" stroke="#404040" stroke-width="0.7"/>
<text class="tk" x="212.40" y="336.04" text-anchor="end">2.0°S</text>
<line x1="241.40" y1="349.20" x2="241.40" y2="351.80" stroke="#404040" stroke-width="0.7"/>
<text class="tk" x="241.40" y="358.80" text-anchor="middle">81.0°W</text>
<line x1="264.20" y1="349.20" x2="264.20" y2="351.80" stroke="#404040" stroke-width="0.7"/>
<text class="tk" x="264.20" y="358.80" text-anchor="middle">79.5°W</text>
<text class="tt" x="252.50" y="373.20" text-anchor="middle">Muisne, Ecuador 2016</text>
<rect x="390.22" y="257.00" width="30.72" height="15.30" fill="#00ffff"/>
<rect x="374.86" y="272.30" width="15.36" height="15.30" fill="#00008c"/>
<rect x="390.22" y="272.30" width="15.36" height="15.30" fill="#0a64ff"/>
<rect x="405.58" y="272.30" width="15.36" height="15.30" fill="#00ffff"/>
<rect x="374.86" y="287.60" width="15.36" height="15.30" fill="#00008c"/>
<rect x="390.22" y="287.60" width="15.36" height="15.30" fill="#00ffff"/>
<rect x="374.86" y="302.90" width="15.36" height="15.30" fill="#0a64ff"/>
<rect x="390.22" y="302.90" width="15.36" height="15.30" fill="#00ffff"/>
<rect x="390.22" y="318.20" width="15.36" height="15.30" fill="#c00000"/>
<line x1="356.90" y1="257.00" x2="359.50" y2="257.00" stroke="#404040" stroke-width="0.7"/>
<text class="tk" x="354.30" y="259.00" text-anchor="end">24.0°N</text>
<line x1="356.90" y1="287.60" x2="359.50" y2="287.60" stroke="#404040" stroke-width="0.7"/>
<text class="tk" x="354.30" y="289.60" text-anchor="end">23.5°N</text>
<line x1="356.90" y1="318.20" x2="359.50" y2="318.20" stroke="#404040" stroke-width="0.7"/>
<text class="tk" x="354.30" y="320.20" text-anchor="end">23.0°N</text>
<line x1="374.86" y1="348.80" x2="374.86" y2="351.40" stroke="#404040" stroke-width="0.7"/>
<text class="tk" x="374.86" y="358.40" text-anchor="middle">120.0°E</text>
<line x1="405.58" y1="348.80" x2="405.58" y2="351.40" stroke="#404040" stroke-width="0.7"/>
<text class="tk" x="405.58" y="358.40" text-anchor="middle">120.5°E</text>
<line x1="436.30" y1="348.80" x2="436.30" y2="351.40" stroke="#404040" stroke-width="0.7"/>
<text class="tk" x="436.30" y="358.40" text-anchor="middle">121.0°E</text>
<text class="tt" x="398.00" y="373.20" text-anchor="middle">Meinong, Taiwan 2016</text>
<rect x="163.20" y="382.56" width="3.68" height="3.72" fill="#00ffff"/>
<rect x="166.88" y="382.56" width="7.36" height="3.72" fill="#c00000"/>
<rect x="174.24" y="382.56" width="7.36" height="3.72" fill="#00ffff"/>
<rect x="181.60" y="382.56" width="3.68" height="3.72" fill="#c00000"/>
<rect x="163.20" y="386.28" width="3.68" height="3.72" fill="#00ffff"/>
<rect x="166.88" y="386.28" width="11.04" height="3.72" fill="#c00000"/>
<rect x="177.92" y="386.28" width="3.68" height="3.72" fill="#00ffff"/>
<rect x="163.20" y="390.00" width="18.40" height="3.72" fill="#c00000"/>
<rect x="159.52" y="393.72" width="3.68" height="3.72" fill="#0a64ff"/>
<rect x="163.20" y="393.72" width="3.68" height="3.72" fill="#c00000"/>
<rect x="166.88" y="393.72" width="7.36" height="3.72" fill="#00ffff"/>
<rect x="174.24" y="393.72" width="3.68" height="3.72" fill="#c00000"/>
<rect x="163.20" y="397.44" width="11.04" height="3.72" fill="#00ffff"/>
<rect x="163.20" y="401.16" width="11.04" height="3.72" fill="#00ffff"/>
<rect x="163.20" y="404.88" width="3.68" height="3.72" fill="#c00000"/>
<rect x="166.88" y="404.88" width="7.36" height="3.72" fill="#00ffff"/>
<rect x="163.20" y="408.60" width="3.68" height="3.72" fill="#c00000"/>
<rect x="166.88" y="408.60" width="7.36" height="3.72" fill="#0a64ff"/>
<rect x="174.24" y="408.60" width="3.68" height="3.72" fill="#c00000"/>
<rect x="188.96" y="408.60" width="3.68" height="3.72" fill="#00008c"/>
<rect x="159.52" y="412.32" width="3.68" height="3.72" fill="#0a64ff"/>
<rect x="163.20" y="412.32" width="3.68" height="3.72" fill="#00ffff"/>
<rect x="166.88" y="412.32" width="7.36" height="3.72" fill="#0a64ff"/>
<rect x="188.96" y="412.32" width="3.68" height="3.72" fill="#00008c"/>
<rect x="159.52" y="416.04" width="3.68" height="3.72" fill="#0a64ff"/>
<rect x="163.20" y="416.04" width="3.68" height="3.72" fill="#00ffff"/>
<rect x="166.88" y="416.04" width="3.68" height="3.72" fill="#00008c"/>
<rect x="170.56" y="416.04" width="3.68" height="3.72" fill="#c00000"/>
<rect x="188.96" y="416.04" width="3.68" height="3.72" fill="#00008c"/>
<rect x="155.84" y="419.76" width="11.04" height="3.72" fill="#00ffff"/>
<rect x="166.88" y="419.76" width="7.36" height="3.72" fill="#0a64ff"/>
<rect x="188.96" y="419.76" width="3.68" height="3.72" fill="#0a64ff"/>
<rect x="159.52" y="423.48" width="7.36" height="3.72" fill="#0a64ff"/>
<rect x="166.88" y="423.48" width="3.68" height="3.72" fill="#00008c"/>
<rect x="170.56" y="423.48" width="3.68" height="3.72" fill="#c00000"/>
<rect x="185.28" y="423.48" width="3.68" height="3.72" fill="#0a64ff"/>
<rect x="188.96" y="423.48" width="3.68" height="3.72" fill="#00ffff"/>
<rect x="159.52" y="427.20" width="3.68" height="3.72" fill="#0a64ff"/>
<rect x="163.20" y="427.20" width="3.68" height="3.72" fill="#00008c"/>
<rect x="166.88" y="427.20" width="7.36" height="3.72" fill="#00ffff"/>
<rect x="185.28" y="427.20" width="3.68" height="3.72" fill="#0a64ff"/>
<rect x="188.96" y="427.20" width="3.68" height="3.72" fill="#00ffff"/>
<rect x="159.52" y="430.92" width="3.68" height="3.72" fill="#0a64ff"/>
<rect x="163.20" y="430.92" width="3.68" height="3.72" fill="#00008c"/>
<rect x="166.88" y="430.92" width="3.68" height="3.72" fill="#0a64ff"/>
<rect x="170.56" y="430.92" width="3.68" height="3.72" fill="#c00000"/>
<rect x="185.28" y="430.92" width="3.68" height="3.72" fill="#0a64ff"/>
<rect x="188.96" y="430.92" width="3.68" height="3.72" fill="#c00000"/>
<rect x="159.52" y="434.64" width="3.68" height="3.72" fill="#c00000"/>
<rect x="163.20" y="434.64" width="3.68" height="3.72" fill="#00ffff"/>
<rect x="166.88" y="434.64" width="3.68" height="3.72" fill="#0a64ff"/>
<rect x="170.56" y="434.64" width="3.68" height="3.72" fill="#00ffff"/>
<rect x="185.28" y="434.64" width="3.68" height="3.72" fill="#00ffff"/>
<rect x="188.96" y="434.64" width="3.68" height="3.72" fill="#c00000"/>
<rect x="159.52" y="438.36" width="3.68" height="3.72" fill="#0a64ff"/>
<rect x="163.20" y="438.36" width="11.04" height="3.72" fill="#00ffff"/>
<rect x="185.28" y="438.36" width="7.36" height="3.72" fill="#0a64ff"/>
<rect x="159.52" y="442.08" width="14.72" height="3.72" fill="#00ffff"/>
<rect x="188.96" y="442.08" width="3.68" height="3.72" fill="#00ffff"/>
<rect x="159.52" y="445.80" width="3.68" height="3.72" fill="#00ffff"/>
<rect x="163.20" y="445.80" width="3.68" height="3.72" fill="#c00000"/>
<rect x="166.88" y="445.80" width="3.68" height="3.72" fill="#00ffff"/>
<rect x="170.56" y="445.80" width="3.68" height="3.72" fill="#0a64ff"/>
<rect x="174.24" y="445.80" width="3.68" height="3.72" fill="#00ffff"/>
<rect x="188.96" y="445.80" width="3.68" height="3.72" fill="#00ffff"/>
<rect x="159.52" y="449.52" width="3.68" height="3.72" fill="#0a64ff"/>
<rect x="163.20" y="449.52" width="3.68" height="3.72" fill="#c00000"/>
<rect x="166.88" y="449.52" width="11.04" height="3.72" fill="#00ffff"/>
<rect x="159.52" y="453.24" width="3.68" height="3.72" fill="#0a64ff"/>
<rect x="163.20" y="453.24" width="11.04" height="3.72" fill="#00ffff"/>
<rect x="174.24" y="453.24" width="3.68" height="3.72" fill="#c00000"/>
<rect x="159.52" y="456.96" width="11.04" height="3.72" fill="#00ffff"/>
<rect x="170.56" y="456.96" width="3.68" height="3.72" fill="#c00000"/>
<rect x="174.24" y="456.96" width="3.68" height="3.72" fill="#00ffff"/>
<rect x="188.96" y="456.96" width="3.68" height="3.72" fill="#0a64ff"/>
<rect x="159.52" y="460.68" width="11.04" height="3.72" fill="#0a64ff"/>
<rect x="174.24" y="460.68" width="7.36" height="3.72" fill="#00ffff"/>
<rect x="188.96" y="460.68" width="3.68" height="3.72" fill="#00ffff"/>
<rect x="155.84" y="464.40" width="3.68" height="3.72" fill="#0a64ff"/>
<rect x="159.52" y="464.40" width="3.68" height="3.72" fill="#c00000"/>
<rect x="163.20" y="464.40" width="3.68" height="3.72" fill="#0a64ff"/>
<rect x="166.88" y="464.40" width="3.68" height="3.72" fill="#00ffff"/>
<rect x="170.56" y="464.40" width="3.68" height="3.72" fill="#0a64ff"/>
<rect x="174.24" y="464.40" width="3.68" height="3.72" fill="#00ffff"/>
<rect x="177.92" y="464.40" width="3.68" height="3.72" fill="#c00000"/>
<rect x="188.96" y="464.40" width="3.68" height="3.72" fill="#0a64ff"/>
<rect x="152.16" y="468.12" width="7.36" height="3.72" fill="#0a64ff"/>
<rect x="159.52" y="468.12" width="3.68" height="3.72" fill="#00ffff"/>
<rect x="163.20" y="468.12" width="11.04" height="3.72" fill="#0a64ff"/>
<rect x="174.24" y="468.12" width="7.36" height="3.72" fill="#c00000"/>
<rect x="188.96" y="468.12" width="3.68" height="3.72" fill="#0a64ff"/>
<rect x="152.16" y="471.84" width="7.36" height="3.72" fill="#00008c"/>
<rect x="159.52" y="471.84" width="7.36" height="3.72" fill="#0a64ff"/>
<rect x="166.88" y="471.84" width="3.68" height="3.72" fill="#00008c"/>
<rect x="170.56" y="471.84" width="3.68" height="3.72" fill="#0a64ff"/>
<rect x="174.24" y="471.84" width="3.68" height="3.72" fill="#c00000"/>
<rect x="177.92" y="471.84" width="3.68" height="3.72" fill="#00ffff"/>
<rect x="188.96" y="471.84" width="3.68" height="3.72" fill="#0a64ff"/>
<line x1="105.20" y1="408.60" x2="107.80" y2="408.60" stroke="#404040" stroke-width="0.7"/>
<text class="tk" x="102.60" y="410.60" text-anchor="end">30.0°S</text>
<line x1="105.20" y1="438.36" x2="107.80" y2="438.36" stroke="#404040" stroke-width="0.7"/>
<text class="tk" x="102.60" y="440.36" text-anchor="end">32.0°S</text>
<line x1="105.20" y1="468.12" x2="107.80" y2="468.12" stroke="#404040" stroke-width="0.7"/>
<text class="tk" x="102.60" y="470.12" text-anchor="end">34.0°S</text>
<line x1="122.72" y1="475.50" x2="122.72" y2="478.10" stroke="#404040" stroke-width="0.7"/>
<text class="tk" x="122.72" y="485.10" text-anchor="middle">74.0°W</text>
<line x1="152.16" y1="475.50" x2="152.16" y2="478.10" stroke="#404040" stroke-width="0.7"/>
<text class="tk" x="152.16" y="485.10" text-anchor="middle">72.0°W</text>
<line x1="181.60" y1="475.50" x2="181.60" y2="478.10" stroke="#404040" stroke-width="0.7"/>
<text class="tk" x="181.60" y="485.10" text-anchor="middle">70.0°W</text>
<text class="tt" x="150.20" y="502.10" text-anchor="middle">Illapel, Chile 2015</text>
<rect x="297.95" y="392.30" width="4.61" height="4.62" fill="#c00000"/>
<rect x="371.77" y="392.30" width="9.23" height="4.62" fill="#c00000"/>
<rect x="367.16" y="396.93" width="4.61" height="4.62" fill="#00ffff"/>
<rect x="371.77" y="396.93" width="9.23" height="4.62" fill="#0a64ff"/>
<rect x="279.50" y="401.55" width="4.61" height="4.62" fill="#c00000"/>
<rect x="357.93" y="401.55" width="4.61" height="4.62" fill="#00ffff"/>
<rect x="362.55" y="401.55" width="9.23" height="4.62" fill="#0a64ff"/>
<rect x="371.77" y="401.55" width="4.61" height="4.62" fill="#00008c"/>
<rect x="376.39" y="401.55" width="4.61" height="4.62" fill="#0a64ff"/>
<rect x="279.50" y="406.18" width="9.23" height="4.62" fill="#0a64ff"/>
<rect x="348.70" y="406.18" width="18.45" height="4.62" fill="#0a64ff"/>
<rect x="367.16" y="406.18" width="4.61" height="4.62" fill="#00ffff"/>
<rect x="371.77" y="406.18" width="9.23" height="4.62" fill="#00008c"/>
<rect x="279.50" y="410.80" width="9.23" height="4.62" fill="#c00000"/>
<rect x="348.70" y="410.80" width="18.45" height="4.62" fill="#00008c"/>
<rect x="367.16" y="410.80" width="4.61" height="4.62" fill="#0a64ff"/>
<rect x="371.77" y="410.80" width="9.23" height="4.62" fill="#00008c"/>
<rect x="279.50" y="415.43" width="23.07" height="4.62" fill="#c00000"/>
<rect x="302.57" y="415.43" width="9.23" height="4.62" fill="#00ffff"/>
<rect x="357.93" y="415.43" width="9.23" height="4.62" fill="#00008c"/>
<rect x="367.16" y="415.43" width="4.61" height="4.62" fill="#0a64ff"/>
<rect x="371.77" y="415.43" width="4.61" height="4.62" fill="#00008c"/>
<rect x="376.39" y="415.43" width="4.61" height="4.62" fill="#0a64ff"/>
<rect x="279.50" y="420.05" width="4.61" height="4.62" fill="#000032"/>
<rect x="284.11" y="420.05" width="4.61" height="4.62" fill="#00ffff"/>
<rect x="288.73" y="420.05" width="32.30" height="4.62" fill="#c00000"/>
<rect x="321.02" y="420.05" width="4.61" height="4.62" fill="#00ffff"/>
<rect x="325.64" y="420.05" width="4.61" height="4.62" fill="#0a64ff"/>
<rect x="367.16" y="420.05" width="4.61" height="4.62" fill="#00ffff"/>
<rect x="371.77" y="420.05" width="4.61" height="4.62" fill="#0a64ff"/>
<rect x="376.39" y="420.05" width="4.61" height="4.62" fill="#00ffff"/>
<rect x="279.50" y="424.68" width="13.84" height="4.62" fill="#00008c"/>
<rect x="293.34" y="424.68" width="4.61" height="4.62" fill="#c00000"/>
<rect x="297.95" y="424.68" width="4.61" height="4.62" fill="#0a64ff"/>
<rect x="302.57" y="424.68" width="41.52" height="4.62" fill="#c00000"/>
<rect x="344.09" y="424.68" width="4.61" height="4.62" fill="#00ffff"/>
<rect x="279.50" y="429.30" width="4.61" height="4.62" fill="#00008c"/>
<rect x="284.11" y="429.30" width="18.45" height="4.62" fill="#000032"/>
<rect x="302.57" y="429.30" width="4.61" height="4.62" fill="#00ffff"/>
<rect x="307.18" y="429.30" width="41.52" height="4.62" fill="#c00000"/>
<rect x="367.16" y="429.30" width="4.61" height="4.62" fill="#c00000"/>
<rect x="279.50" y="433.93" width="4.61" height="4.62" fill="#c00000"/>
<rect x="284.11" y="433.93" width="13.84" height="4.62" fill="#00008c"/>
<rect x="297.95" y="433.93" width="4.61" height="4.62" fill="#0a64ff"/>
<rect x="302.57" y="433.93" width="4.61" height="4.62" fill="#00ffff"/>
<rect x="307.18" y="433.93" width="9.23" height="4.62" fill="#00008c"/>
<rect x="316.41" y="433.93" width="4.61" height="4.62" fill="#0a64ff"/>
<rect x="321.02" y="433.93" width="59.98" height="4.62" fill="#c00000"/>
<rect x="279.50" y="438.55" width="4.61" height="4.62" fill="#00ffff"/>
<rect x="284.11" y="438.55" width="9.23" height="4.62" fill="#00008c"/>
<rect x="293.34" y="438.55" width="9.23" height="4.62" fill="#000032"/>
<rect x="302.57" y="438.55" width="4.61" height="4.62" fill="#00ffff"/>
<rect x="307.18" y="438.55" width="4.61" height="4.62" fill="#00008c"/>
<rect x="311.80" y="438.55" width="13.84" height="4.62" fill="#000032"/>
<rect x="325.64" y="438.55" width="4.61" height="4.62" fill="#00008c"/>
<rect x="330.25" y="438.55" width="4.61" height="4.62" fill="#000032"/>
<rect x="334.86" y="438.55" width="4.61" height="4.62" fill="#00ffff"/>
<rect x="339.48" y="438.55" width="41.52" height="4.62" fill="#c00000"/>
<rect x="279.50" y="443.18" width="4.61" height="4.62" fill="#c00000"/>
<rect x="284.11" y="443.18" width="4.61" height="4.62" fill="#0a64ff"/>
<rect x="288.73" y="443.18" width="4.61" height="4.62" fill="#00008c"/>
<rect x="293.34" y="443.18" width="9.23" height="4.62" fill="#000032"/>
<rect x="302.57" y="443.18" width="4.61" height="4.62" fill="#00008c"/>
<rect x="307.18" y="443.18" width="4.61" height="4.62" fill="#0a64ff"/>
<rect x="311.80" y="443.18" width="9.23" height="4.62" fill="#00008c"/>
<rect x="321.02" y="443.18" width="4.61" height="4.62" fill="#0a64ff"/>
<rect x="325.64" y="443.18" width="9.23" height="4.62" fill="#00008c"/>
<rect x="334.86" y="443.18" width="4.61" height="4.62" fill="#0a64ff"/>
<rect x="339.48" y="443.18" width="4.61" height="4.62" fill="#00008c"/>
<rect x="344.09" y="443.18" width="4.61" height="4.62" fill="#0a64ff"/>
<rect x="348.70" y="443.18" width="4.61" height="4.62" fill="#00ffff"/>
<rect x="353.32" y="443.18" width="27.68" height="4.62" fill="#c00000"/>
<rect x="279.50" y="447.80" width="9.23" height="4.62" fill="#c00000"/>
<rect x="288.73" y="447.80" width="4.61" height="4.62" fill="#00ffff"/>
<rect x="293.34" y="447.80" width="4.61" height="4.62" fill="#00008c"/>
<rect x="297.95" y="447.80" width="13.84" height="4.62" fill="#000032"/>
<rect x="311.80" y="447.80" width="9.23" height="4.62" fill="#00008c"/>
<rect x="321.02" y="447.80" width="4.61" height="4.62" fill="#0a64ff"/>
<rect x="325.64" y="447.80" width="4.61" height="4.62" fill="#00008c"/>
<rect x="330.25" y="447.80" width="9.23" height="4.62" fill="#00ffff"/>
<rect x="339.48" y="447.80" width="4.61" height="4.62" fill="#0a64ff"/>
<rect x="344.09" y="447.80" width="4.61" height="4.62" fill="#00008c"/>
<rect x="348.70" y="447.80" width="13.84" height="4.62" fill="#000032"/>
<rect x="362.55" y="447.80" width="4.61" height="4.62" fill="#00008c"/>
<rect x="367.16" y="447.80" width="4.61" height="4.62" fill="#00ffff"/>
<rect x="371.77" y="447.80" width="9.23" height="4.62" fill="#c00000"/>
<rect x="279.50" y="452.43" width="13.84" height="4.62" fill="#c00000"/>
<rect x="293.34" y="452.43" width="4.61" height="4.62" fill="#00ffff"/>
<rect x="297.95" y="452.43" width="13.84" height="4.62" fill="#000032"/>
<rect x="311.80" y="452.43" width="13.84" height="4.62" fill="#00008c"/>
<rect x="325.64" y="452.43" width="9.23" height="4.62" fill="#0a64ff"/>
<rect x="334.86" y="452.43" width="9.23" height="4.62" fill="#00008c"/>
<rect x="344.09" y="452.43" width="23.07" height="4.62" fill="#000032"/>
<rect x="367.16" y="452.43" width="4.61" height="4.62" fill="#00008c"/>
<rect x="371.77" y="452.43" width="4.61" height="4.62" fill="#0a64ff"/>
<rect x="376.39" y="452.43" width="4.61" height="4.62" fill="#00ffff"/>
<rect x="279.50" y="457.05" width="18.45" height="4.62" fill="#c00000"/>
<rect x="297.95" y="457.05" width="4.61" height="4.62" fill="#0a64ff"/>
<rect x="302.57" y="457.05" width="9.23" height="4.62" fill="#000032"/>
<rect x="311.80" y="457.05" width="4.61" height="4.62" fill="#00008c"/>
<rect x="316.41" y="457.05" width="4.61" height="4.62" fill="#000032"/>
<rect x="321.02" y="457.05" width="18.45" height="4.62" fill="#00008c"/>
<rect x="339.48" y="457.05" width="18.45" height="4.62" fill="#000032"/>
<rect x="357.93" y="457.05" width="18.45" height="4.62" fill="#00008c"/>
<rect x="376.39" y="457.05" width="4.61" height="4.62" fill="#0a64ff"/>
<rect x="279.50" y="461.68" width="23.07" height="4.62" fill="#c00000"/>
<rect x="302.57" y="461.68" width="13.84" height="4.62" fill="#00008c"/>
<rect x="316.41" y="461.68" width="4.61" height="4.62" fill="#0a64ff"/>
<rect x="321.02" y="461.68" width="4.61" height="4.62" fill="#00ffff"/>
<rect x="325.64" y="461.68" width="9.23" height="4.62" fill="#0a64ff"/>
<rect x="334.86" y="461.68" width="9.23" height="4.62" fill="#00008c"/>
<rect x="344.09" y="461.68" width="4.61" height="4.62" fill="#000032"/>
<rect x="348.70" y="461.68" width="4.61" height="4.62" fill="#00008c"/>
<rect x="353.32" y="461.68" width="9.23" height="4.62" fill="#000032"/>
<rect x="362.55" y="461.68" width="4.61" height="4.62" fill="#00008c"/>
<rect x="367.16" y="461.68" width="4.61" height="4.62" fill="#0a64ff"/>
<rect x="371.77" y="461.68" width="4.61" height="4.62" fill="#c00000"/>
<rect x="279.50" y="466.30" width="9.23" height="4.62" fill="#00ffff"/>
<rect x="288.73" y="466.30" width="13.84" height="4.62" fill="#c00000"/>
<rect x="302.57" y="466.30" width="13.84" height="4.62" fill="#0a64ff"/>
<rect x="316.41" y="466.30" width="13.84" height="4.62" fill="#00ffff"/>
<rect x="330.25" y="466.30" width="4.61" height="4.62" fill="#0a64ff"/>
<rect x="334.86" y="466.30" width="4.61" height="4.62" fill="#00ffff"/>
<rect x="339.48" y="466.30" width="13.84" height="4.62" fill="#c00000"/>
<rect x="353.32" y="466.30" width="4.61" height="4.62" fill="#00008c"/>
<rect x="357.93" y="466.30" width="4.61" height="4.62" fill="#000032"/>
<rect x="362.55" y="466.30" width="4.61" height="4.62" fill="#0a64ff"/>
<rect x="367.16" y="466.30" width="9.23" height="4.62" fill="#c00000"/>
<rect x="279.50" y="470.93" width="9.23" height="4.62" fill="#00ffff"/>
<rect x="288.73" y="470.93" width="41.52" height="4.62" fill="#c00000"/>
<rect x="330.25" y="470.93" width="4.61" height="4.62" fill="#00ffff"/>
<rect x="334.86" y="470.93" width="23.07" height="4.62" fill="#c00000"/>
<rect x="357.93" y="470.93" width="4.61" height="4.62" fill="#00ffff"/>
<rect x="362.55" y="470.93" width="13.84" height="4.62" fill="#c00000"/>
<line x1="276.90" y1="392.30" x2="279.50" y2="392.30" stroke="#404040" stroke-width="0.7"/>
<text class="tk" x="274.30" y="394.30" text-anchor="end">30.0°N</text>
<line x1="276.90" y1="429.30" x2="279.50" y2="429.30" stroke="#404040" stroke-width="0.7"/>
<text class="tk" x="274.30" y="431.30" text-anchor="end">28.0°N</text>
<line x1="276.90" y1="466.30" x2="279.50" y2="466.30" stroke="#404040" stroke-width="0.7"/>
<text class="tk" x="274.30" y="468.30" text-anchor="end">26.0°N</text>
<line x1="307.18" y1="475.55" x2="307.18" y2="478.15" stroke="#404040" stroke-width="0.7"/>
<text class="tk" x="307.18" y="485.15" text-anchor="middle">84.0°E</text>
<line x1="344.09" y1="475.55" x2="344.09" y2="478.15" stroke="#404040" stroke-width="0.7"/>
<text class="tk" x="344.09" y="485.15" text-anchor="middle">86.0°E</text>
<line x1="381.00" y1="475.55" x2="381.00" y2="478.15" stroke="#404040" stroke-width="0.7"/>
<text class="tk" x="381.00" y="485.15" text-anchor="middle">88.0°E</text>
<text class="tt" x="330.00" y="502.10" text-anchor="middle">Gorkha, Nepal 2015</text>
<rect x="178.60" y="514.60" width="24.32" height="6.60" fill="#c00000"/>
<rect x="202.92" y="514.60" width="24.32" height="6.60" fill="#00ffff"/>
<rect x="227.24" y="514.60" width="24.32" height="6.60" fill="#0a64ff"/>
<rect x="251.56" y="514.60" width="24.32" height="6.60" fill="#00008c"/>
<rect x="275.88" y="514.60" width="24.32" height="6.60" fill="#000032"/>
<text class="cb" x="202.92" y="532.6" text-anchor="middle">0</text>
<text class="cb" x="227.24" y="532.6" text-anchor="middle">0.02</text>
<text class="cb" x="251.56" y="532.6" text-anchor="middle">0.04</text>
<text class="cb" x="275.88" y="532.6" text-anchor="middle">0.08</text>
<text class="cl" x="240.2" y="546.5" text-anchor="middle"><tspan font-style="italic">MDI</tspan> (cm<tspan dy="-3.4" font-size="6.2">3</tspan><tspan dy="3.4">/cm</tspan><tspan dy="-3.4" font-size="6.2">3</tspan><tspan dy="3.4">)</tspan></text>
</g>
</svg>
</body></html>
